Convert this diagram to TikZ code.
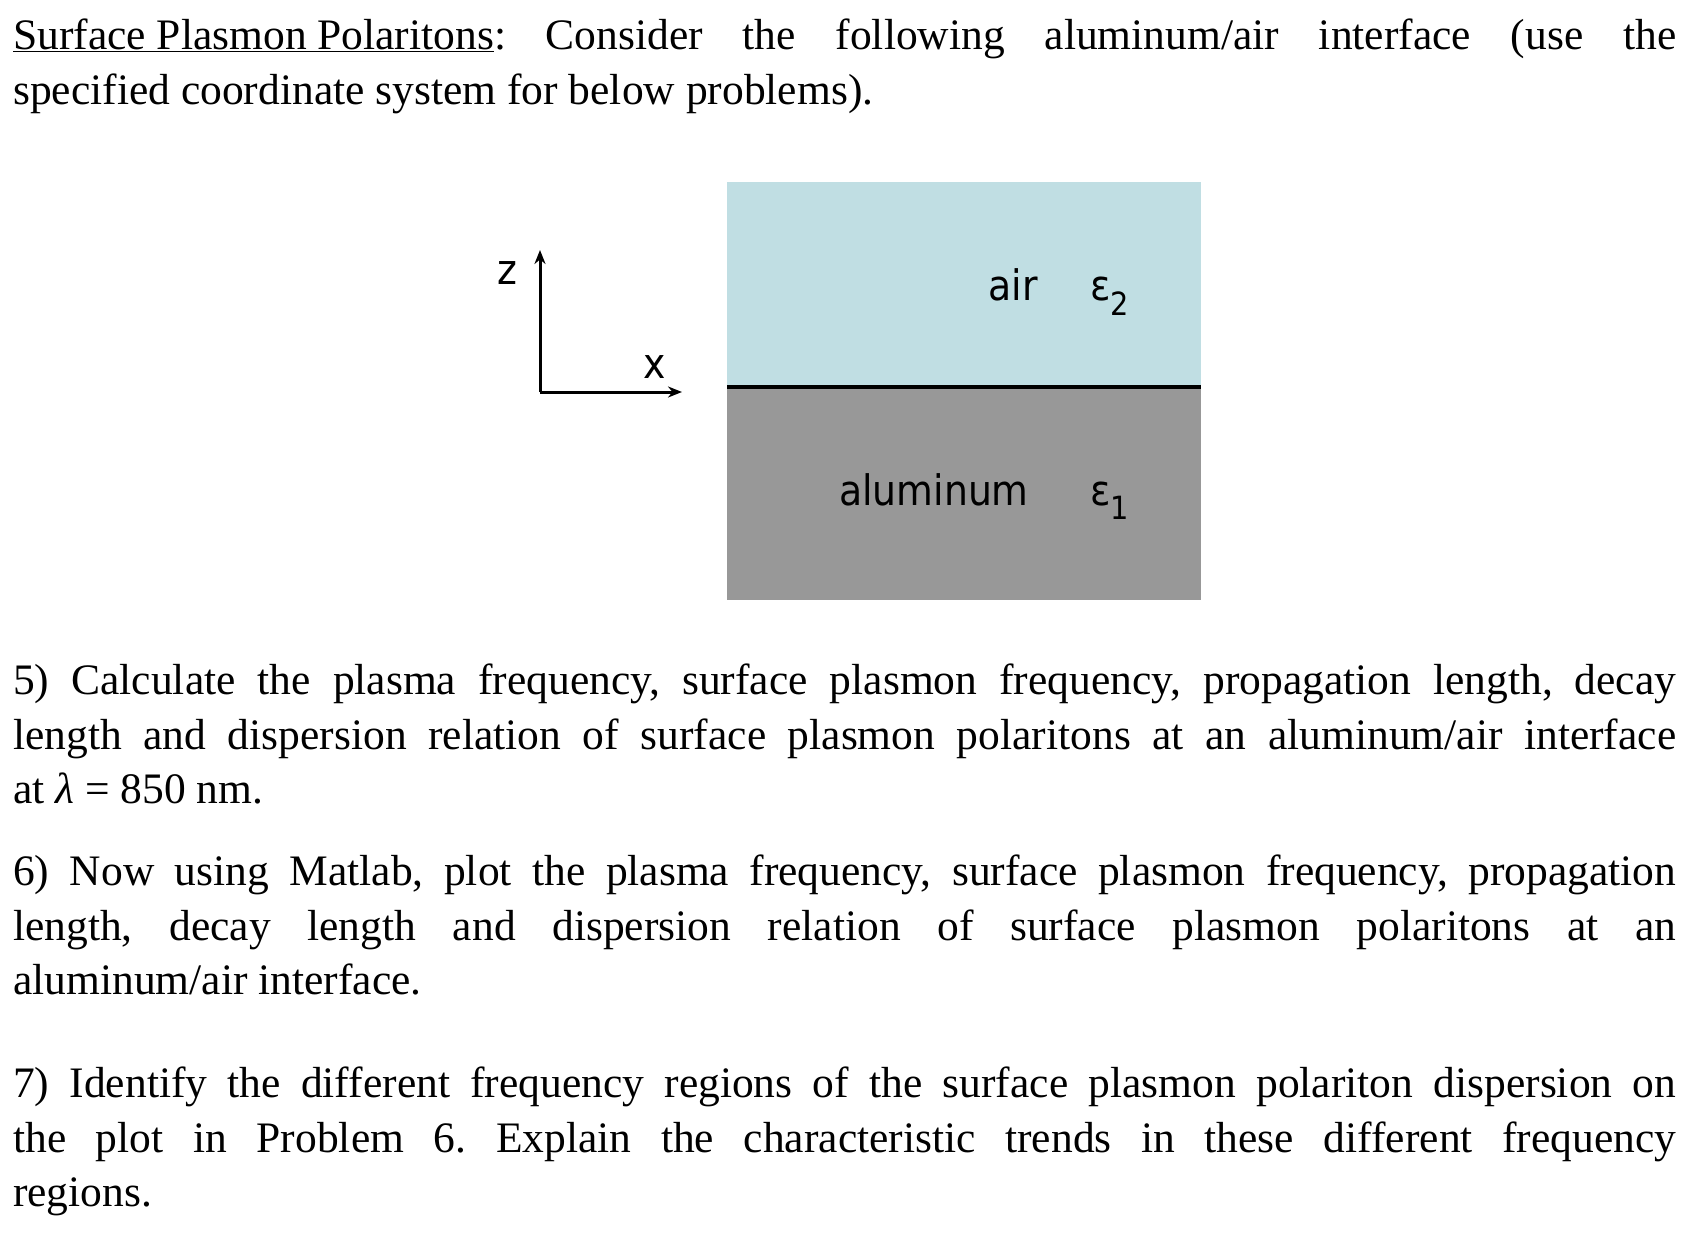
\documentclass[tikz,border=0pt]{standalone}
\usepackage{fontspec}
\usetikzlibrary{arrows.meta}
\setmainfont{Liberation Serif}
\newfontfamily\lab{DejaVu Sans Condensed}
\definecolor{airc}{HTML}{C0DEE3}
\definecolor{alc}{HTML}{989898}
\frenchspacing
\begin{document}
\begin{tikzpicture}[x=1pt,y=-1pt,
  para/.style={anchor=north west,inner sep=0pt,text width=1663pt,align=justify,font=\fontsize{43.5}{54.5}\selectfont},
  labl/.style={inner sep=0pt,anchor=base,font=\lab\fontsize{42}{46}\selectfont},
  ax/.style={line width=3pt,-{Stealth[length=14pt,width=11pt]}}]
\useasboundingbox (0,0) rectangle (1698,1232);
\fill[white] (0,0) rectangle (1698,1232);
\node[para] (title) at (13,19) {\underline{Surface Plasmon Polaritons}: Consider the following aluminum/air interface (use the\linebreak specified coordinate system for below problems).};
\fill[airc] (727,182) rectangle (1201,387);
\fill[alc] (727,387) rectangle (1201,600);
\draw[line width=3.5pt] (727,387) -- (1201,387);
\coordinate (o) at (540,392);
\coordinate (zt) at (540,250);
\coordinate (xt) at (682,392);
\draw[ax] (o) -- (zt);
\draw[ax] (o) -- (xt);
\node[labl] (z) at (507,284) {z};
\node[labl] (x) at (655,378) {x};
\node[labl] (air) at (1013,300) {air};
\node[labl] (e2) at (1110,300) {ε\textsubscript{\kern-1pt\fontsize{32}{32}\selectfont 2}};
\node[labl] (al) at (934,505) {aluminum};
\node[labl] (e1) at (1110,505) {ε\textsubscript{\kern-1pt\fontsize{32}{32}\selectfont 1}};
\node[para] (p5) at (13,664) {5) Calculate the plasma frequency, surface plasmon frequency, propagation length, decay\linebreak length and dispersion relation of surface plasmon polaritons at an aluminum/air interface\linebreak at \textit{λ} = 850 nm.};
\node[para] (p6) at (13,855) {6) Now using Matlab, plot the plasma frequency, surface plasmon frequency, propagation\linebreak length, decay length and dispersion relation of surface plasmon polaritons at an\linebreak aluminum/air interface.};
\node[para] (p7) at (13,1067) {7) Identify the different frequency regions of the surface plasmon polariton dispersion on\linebreak the plot in Problem 6. Explain the characteristic trends in these different frequency\linebreak regions.};
\end{tikzpicture}
\end{document}
